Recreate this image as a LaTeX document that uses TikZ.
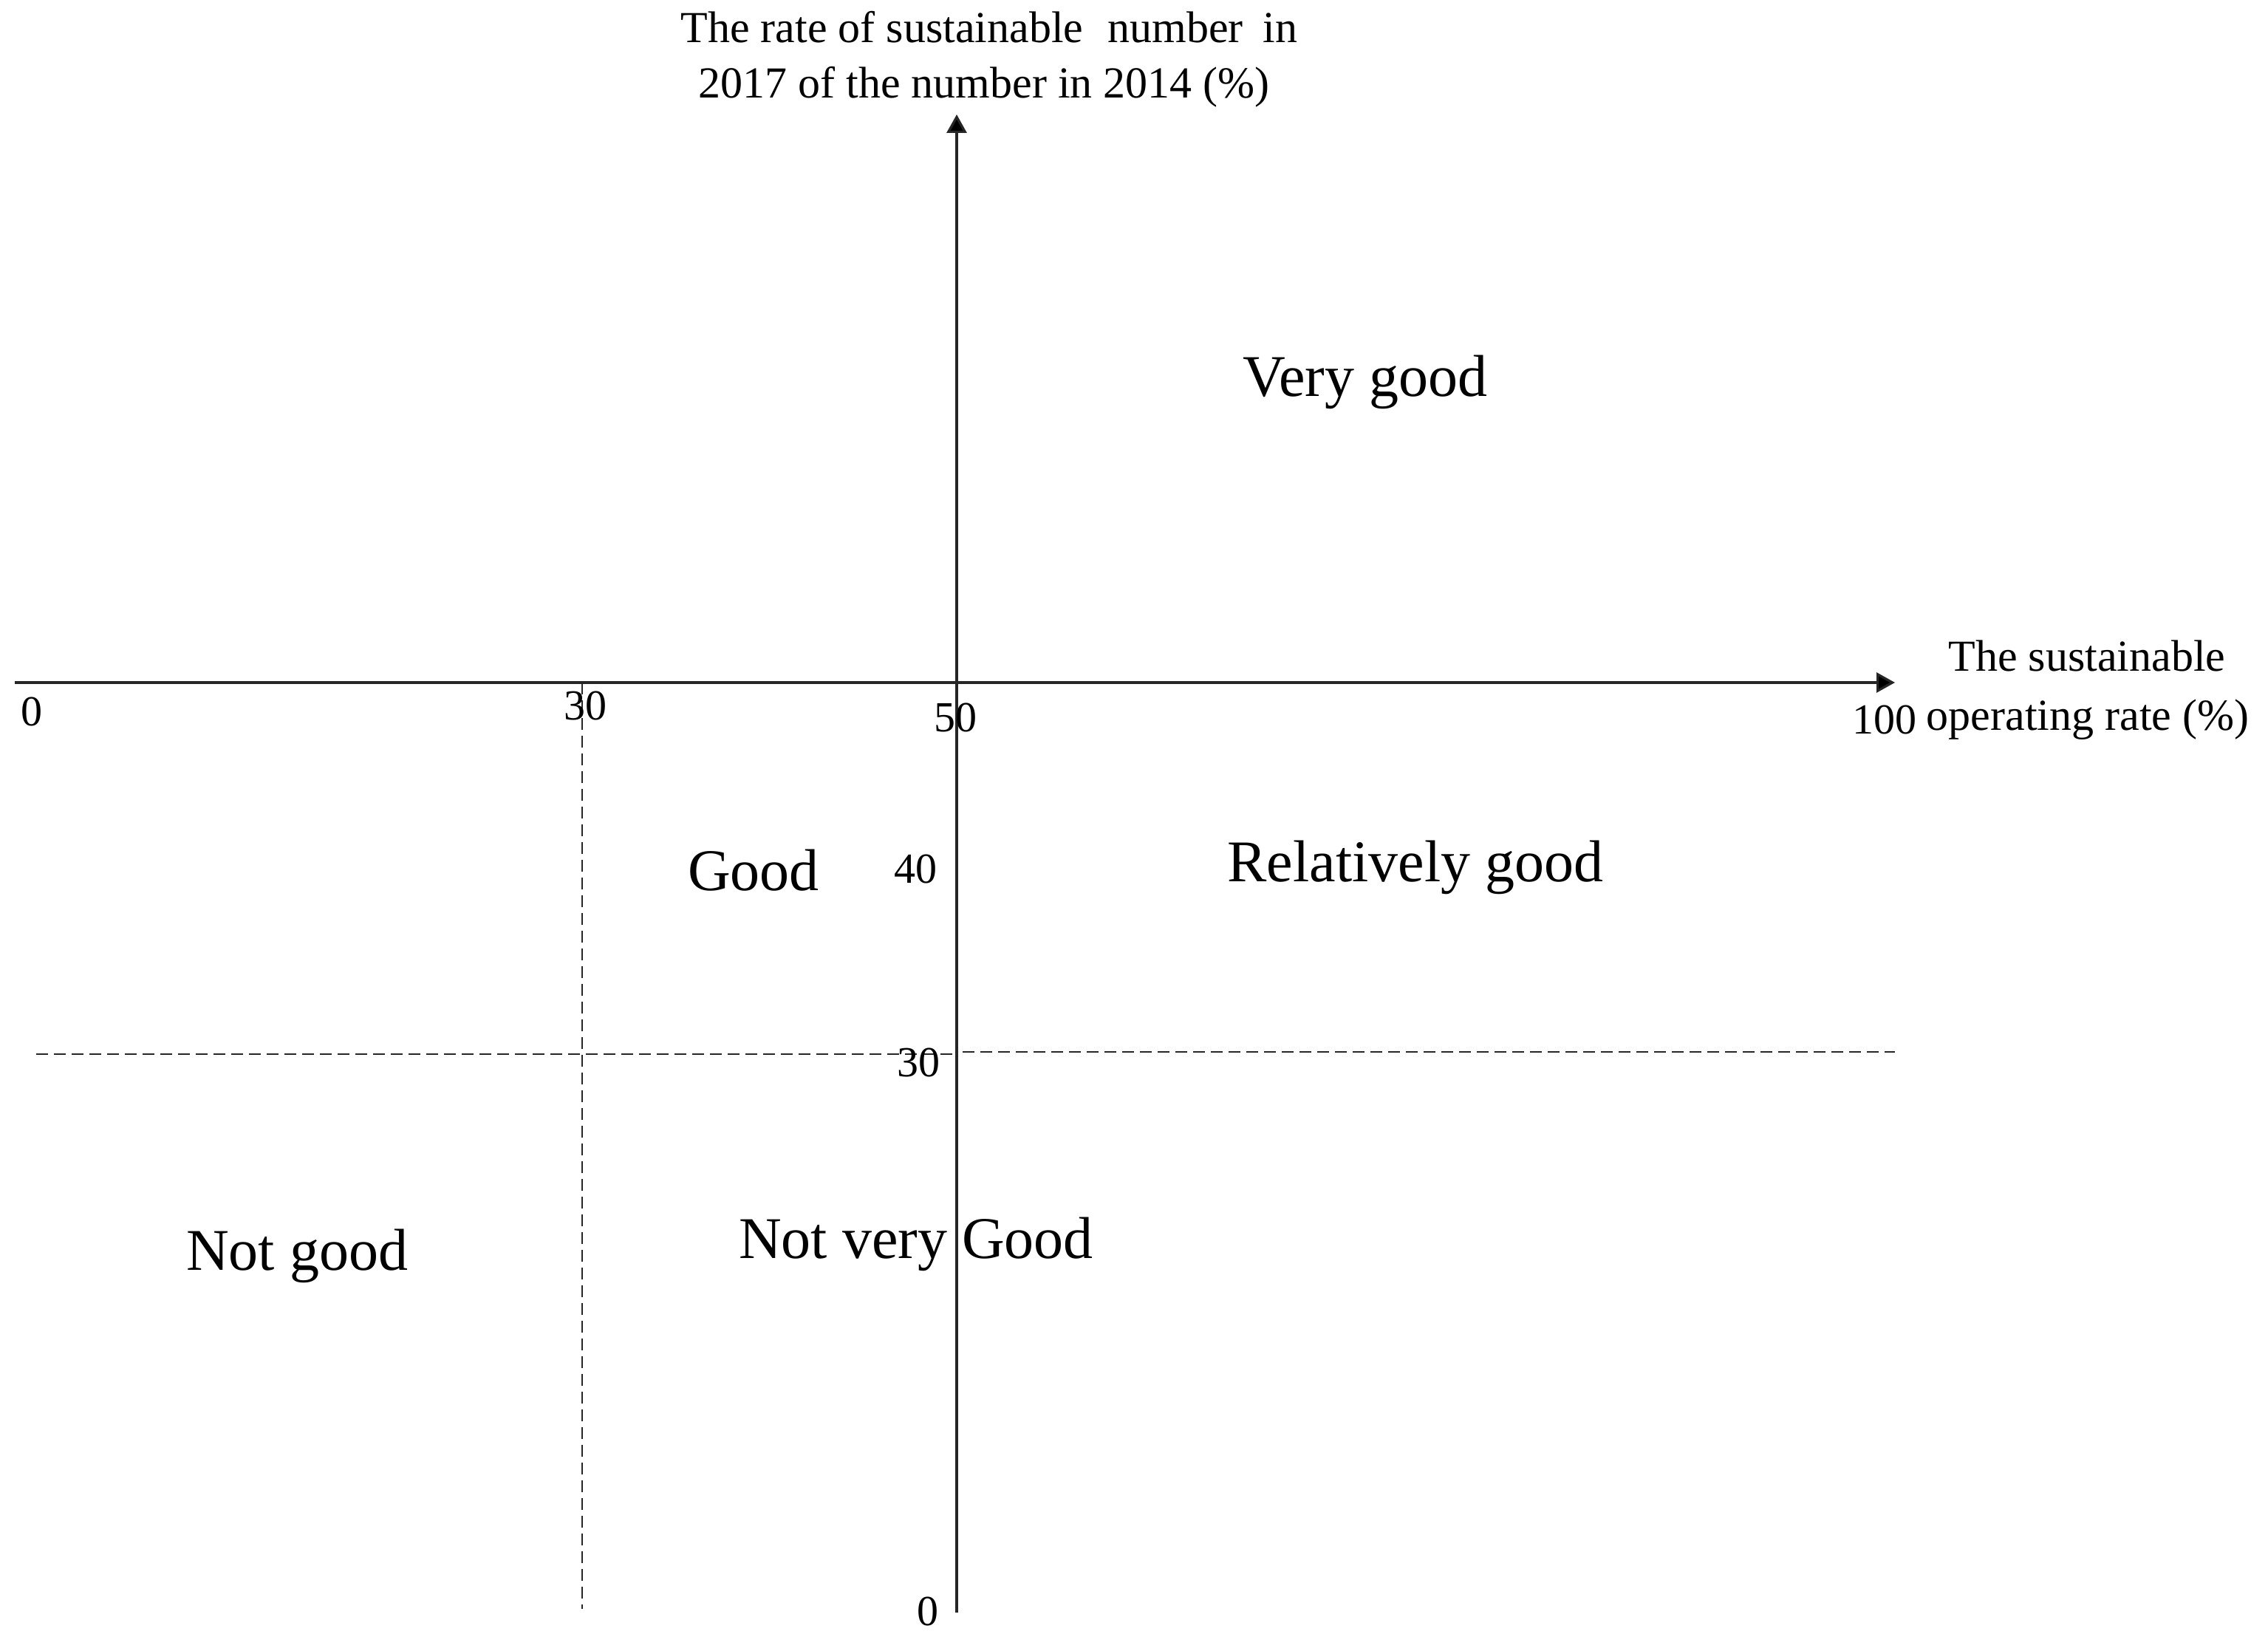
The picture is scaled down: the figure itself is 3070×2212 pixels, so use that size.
\documentclass[tikz,border=0pt]{standalone}
\usepackage{fontspec}
\setmainfont{Liberation Serif}
\usetikzlibrary{arrows.meta}
\begin{document}
\begin{tikzpicture}[x=0.25pt,y=-0.25pt,
  axis/.style={line width=0.8pt,draw=black!85,-{Triangle[length=6.25pt,width=6.75pt,fill=black]}},
  guide/.style={line width=0.6pt,draw=black!85,dash pattern=on 4pt off 2pt},
  big/.style={inner sep=0pt,anchor=base,font=\fontsize{20}{24}\selectfont},
  title/.style={inner sep=0pt,anchor=base,font=\fontsize{15}{18}\selectfont},
  num/.style={inner sep=0pt,anchor=base,font=\fontsize{14.5}{17}\selectfont}]
\useasboundingbox (0,0) rectangle (3070,2212);
\fill[white] (0,0) rectangle (3070,2212);
% axis end points
\coordinate (xl) at (20,924);
\coordinate (xr) at (2565,924);
\coordinate (yb) at (1295,2183);
\coordinate (yt) at (1295,155);
% guide end points
\coordinate (vdt) at (788,924);
\coordinate (vdb) at (788,2178);
\coordinate (hdl) at (49,1427);
\coordinate (hdm) at (1295,1427);
\coordinate (hdn) at (1303,1424);
\coordinate (hdr) at (2565,1424);
% dashed guides
\draw[guide] (vdt) -- (vdb);
\draw[guide] (hdl) -- (hdm);
\draw[guide] (hdn) -- (hdr);
% axes
\draw[axis] (xl) -- (xr);
\draw[axis] (yb) -- (yt);
% axis titles
\node[title] (yt1) at (1339,58) {The rate of sustainable\hspace{0.3em} number\hspace{0.2em} in};
\node[title] (yt2) at (1332,133) {2017 of the number in 2014 (\%)};
\node[title] (xt1) at (2825,909) {The sustainable};
\node[title] (xt2) at (2826,989) {operating rate (\%)};
% tick numbers
\node[num] (n0x) at (43,983) {0};
\node[num] (n30x) at (792,975) {30};
\node[num] (n50x) at (1293,990) {50};
\node[num] (n100x) at (2551,993) {100};
\node[num] (n40y) at (1239,1195) {40};
\node[num] (n30y) at (1243,1457) {30};
\node[num] (n0y) at (1256,2200) {0};
% region labels
\node[big] (vg) at (1848,537) {Very good};
\node[big] (g) at (1020,1205) {Good};
\node[big] (rg) at (1916,1193) {Relatively good};
\node[big] (ng) at (402,1719) {Not good};
\node[big] (nvg) at (1240,1703) {Not very Good};
\end{tikzpicture}
\end{document}
